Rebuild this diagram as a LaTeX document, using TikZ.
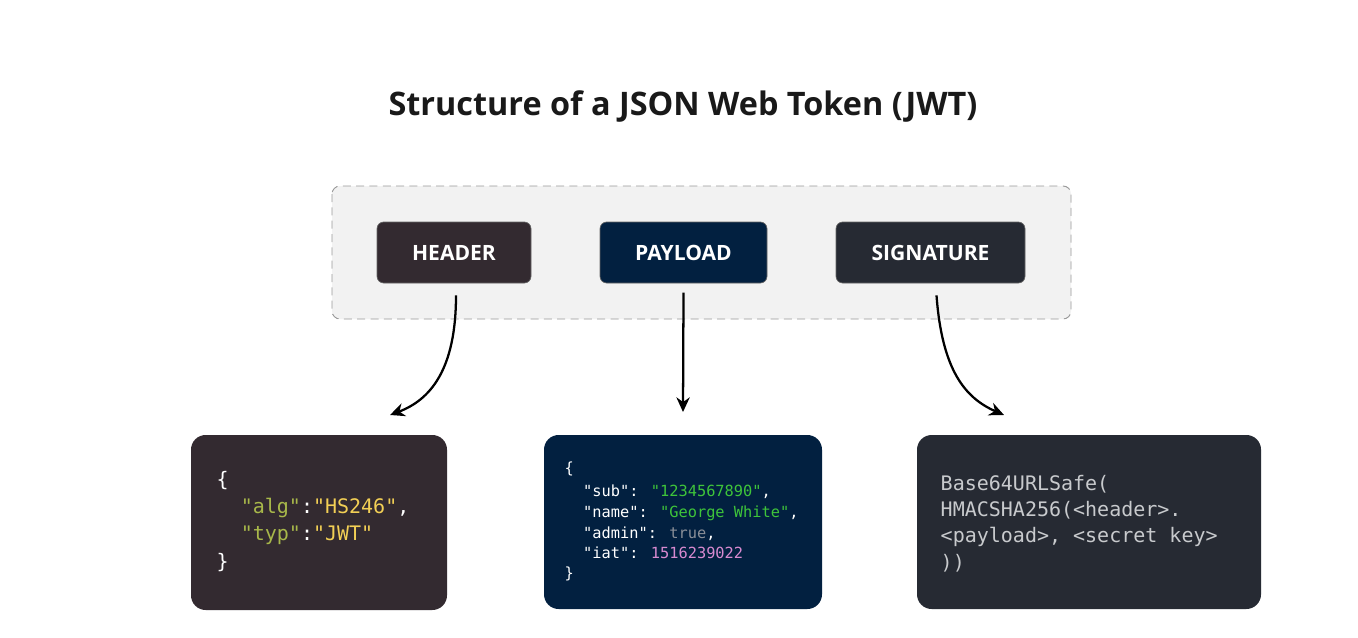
\documentclass[tikz,border=0pt]{standalone}
\usepackage{fontspec}
\setmainfont{Open Sans}
\newfontfamily\codefont{DejaVu Sans Mono}
\usetikzlibrary{arrows.meta}
\definecolor{hdr}{HTML}{332A30}
\definecolor{pay}{HTML}{022040}
\definecolor{sig}{HTML}{262A33}
\definecolor{olive}{HTML}{A8B84A}
\definecolor{yel}{HTML}{F2CF55}
\definecolor{grn}{HTML}{3EC43A}
\definecolor{pink}{HTML}{D88AD0}
\definecolor{gry}{HTML}{8A8F98}
\definecolor{sgtx}{HTML}{C8CACD}
\begin{document}
\begin{tikzpicture}[x=0.75pt,y=-0.75pt,
  lab/.style={rounded corners=5pt,draw=black!60,line width=0.5pt,text=white,font=\bfseries\fontsize{15.8}{18}\selectfont,minimum height=45.75pt,inner sep=0pt},
  arr/.style={-{Stealth[length=11pt,width=10pt]},line width=1.7pt}]
\useasboundingbox (0,0) rectangle (1358,638);
\fill[white] (0,0) rectangle (1358,638);
\node[font=\bfseries\fontsize{24.3}{28}\selectfont,text=black!90] (title) at (683,107) {Structure of a JSON Web Token (JWT)};
\draw[draw=gray!80,fill=black!5,rounded corners=6pt,line width=0.7pt,dash pattern=on 6pt off 4pt] (332,186) rectangle (1071,319);
\node[lab,fill=hdr,minimum width=115.5pt] (h) at (454,252.5) {HEADER};
\node[lab,fill=pay,minimum width=125.25pt] (p) at (683.5,252.5) {PAYLOAD};
\node[lab,fill=sig,minimum width=141.75pt] (s) at (930.5,252.5) {SIGNATURE};
\fill[hdr,rounded corners=11pt] (191,435) rectangle (447,610);
\fill[pay,rounded corners=11pt] (544,435) rectangle (822,609);
\fill[sig,rounded corners=11pt] (917,435) rectangle (1261,609);
\coordinate (hc) at (390,415);
\coordinate (pc) at (683,412);
\coordinate (sc) at (1004,415);
\draw[arr] ([xshift=1.5pt,yshift=-9pt]h.south) .. controls (456,370) and (430,400) .. (hc);
\draw[arr] ([yshift=-7pt]p.south) -- (pc);
\draw[arr] ([xshift=4.5pt,yshift=-9pt]s.south) .. controls (942,370) and (965,398) .. (sc);
\node[anchor=west,text=white,font=\codefont\fontsize{15}{18}\selectfont] (h1) at (212,481) {\{};
\node[anchor=west,font=\codefont\fontsize{15}{18}\selectfont] (h2) at (212,508) {\phantom{00}\textcolor{olive}{"alg"}\textcolor{white}{:}\textcolor{yel}{"HS246"}\textcolor{white}{,}};
\node[anchor=west,font=\codefont\fontsize{15}{18}\selectfont] (h3) at (212,535) {\phantom{00}\textcolor{olive}{"typ"}\textcolor{white}{:}\textcolor{yel}{"JWT"}};
\node[anchor=west,text=white,font=\codefont\fontsize{15}{18}\selectfont] (h4) at (212,563) {\}};
\tikzset{pc/.style={anchor=west,font=\codefont\fontsize{11.5}{14}\selectfont,text=white}}
\node[pc] (p1) at (560,469) {\{};
\node[pc] (p2) at (560,492) {\phantom{00}"sub": \textcolor{grn}{"1234567890"},};
\node[pc] (p3) at (560,513) {\phantom{00}"name": \textcolor{grn}{"George White"},};
\node[pc] (p4) at (560,534) {\phantom{00}"admin": \textcolor{gry}{true},};
\node[pc] (p5) at (560,553) {\phantom{00}"iat": \textcolor{pink}{1516239022}};
\node[pc] (p6) at (560,574) {\}};
\tikzset{sg/.style={anchor=west,font=\codefont\fontsize{15}{18}\selectfont,text=sgtx}}
\node[sg] (s1) at (936,484) {Base64URLSafe(};
\node[sg] (s2) at (936,510) {HMACSHA256(<header>.};
\node[sg] (s3) at (936,537) {<payload>, <secret key>};
\node[sg] (s4) at (936,563) {))};
\end{tikzpicture}
\end{document}
